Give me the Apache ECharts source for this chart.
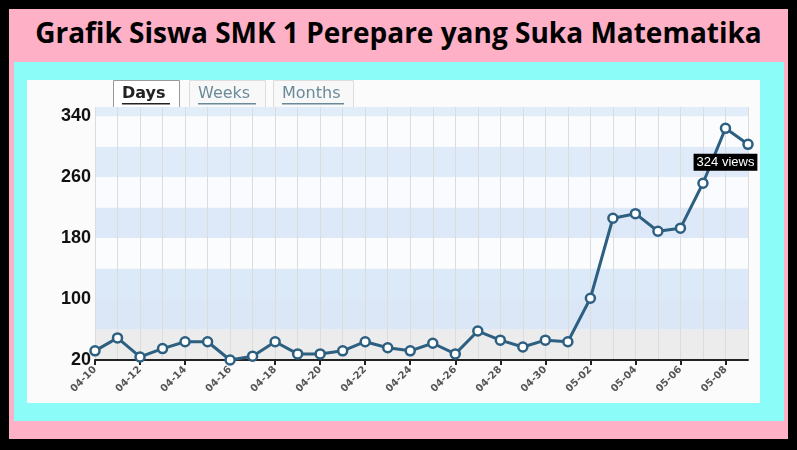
<!DOCTYPE html>
<html>
<head>
<meta charset="utf-8">
<script src="https://cdn.jsdelivr.net/npm/echarts@6/dist/echarts.min.js"></script>
<style>
html,body{margin:0;padding:0;background:#000;}
#frame{position:absolute;left:9px;top:9px;width:779px;height:430px;background:#fdb0c6;}
#cyan{position:absolute;left:14px;top:62px;width:770px;height:359px;background:#8cfcf8;}
#panel{position:absolute;left:27px;top:80px;width:733px;height:323px;background:#fbfbfb;}
#title{position:absolute;left:0;top:13px;width:797px;text-align:center;font:bold 28px "Open Sans","Noto Sans",sans-serif;color:#000;}
#main{position:absolute;left:0;top:0;width:797px;height:450px;}
</style>
</head>
<body>
<div id="frame"></div>
<div id="cyan"></div>
<div id="panel"></div>
<div id="title">Grafik Siswa SMK 1 Perepare yang Suka Matematika</div>
<div id="main"></div>
<script>
// tanggal dan jumlah views
var days = ['04-10','04-11','04-12','04-13','04-14','04-15','04-16','04-17','04-18','04-19',
            '04-20','04-21','04-22','04-23','04-24','04-25','04-26','04-27','04-28','04-29',
            '04-30','05-01','05-02','05-03','05-04','05-05','05-06','05-07','05-08','05-09'];
var views = [32,49,24,35,44,44,20,25,44,28,
             28,32,44,36,32,42,28,58,46,37,
             46,44,101,206,212,189,193,252,324,303];
var yTicks = [20,100,180,260,340];
var tabs = ['Days','Weeks','Months'];

var chart = echarts.init(document.getElementById('main'));
var seriesData = views.map(function (v, i) {
    if (i == 28) {
        return {value: v, label: {show: true, formatter: '324 views', position: 'inside', offset: [0, 34],
            backgroundColor: '#000', color: '#fff', padding: [2, 3], fontSize: 13, fontFamily: 'Liberation Sans'}};
    }
    return v;
});
var tabGraphics = [];
var tabX = [113, 189, 273], tabW = [66, 76, 80];
tabs.forEach(function (t, i) {
    tabGraphics.push({type: 'rect', left: tabX[i], top: 80, shape: {width: tabW[i], height: 28},
        style: {fill: i == 0 ? '#fff' : '#f8f8f8', stroke: i == 0 ? '#999' : '#ddd', lineWidth: 1}});
    tabGraphics.push({type: 'text', left: tabX[i] + 9, top: 86, style: {text: t,
        fill: i == 0 ? '#222' : '#6b8a99', font: (i == 0 ? 'bold ' : '') + '16px "DejaVu Sans"'}});
    tabGraphics.push({type: 'rect', left: tabX[i] + 9, top: 103, shape: {width: tabW[i] - 18, height: 1.5},
        style: {fill: i == 0 ? '#222' : '#6b8a99'}});
});

var option = {
    animation: false,
    grid: {left: 95, right: 49, top: 107, bottom: 90},
    graphic: tabGraphics,
    xAxis: {
        type: 'category', data: days, boundaryGap: false,
        axisLine: {lineStyle: {color: '#222', width: 2}},
        axisTick: {show: true, interval: 1, length: 5, lineStyle: {color: '#222', width: 2}},
        axisLabel: {interval: 1, rotate: 45, color: '#555', fontWeight: 'bold', fontSize: 10, fontFamily: 'DejaVu Sans', margin: 8},
        splitLine: {show: true, interval: 0, lineStyle: {color: '#dcdcdc', width: 1}}
    },
    yAxis: [{
        type: 'value', min: 20, max: 352, interval: 80,
        axisLine: {show: false}, axisTick: {show: false}, splitLine: {show: false},
        axisLabel: {color: '#111', fontWeight: 'bold', fontSize: 18, fontFamily: 'Liberation Sans', margin: 4,
            formatter: function (v) { return yTicks.indexOf(v) >= 0 ? v : ''; }}
    }, {
        type: 'value', min: 20, max: 352, interval: 40, show: true, position: 'left',
        axisLine: {show: false}, axisTick: {show: false}, axisLabel: {show: false},
        splitLine: {show: false},
        splitArea: {show: true, areaStyle: {color: ['#ececec', '#dbe7f7', '#dce9f9', '#fbfcfe', '#dde9f8', '#f9fbfe', '#dfebf9', '#fafcfe', '#e2edfa']}}
    }],
    series: [{
        type: 'line', data: seriesData, yAxisIndex: 0,
        symbol: 'circle', symbolSize: 9,
        lineStyle: {color: '#2c5f80', width: 3},
        itemStyle: {color: '#fff', borderColor: '#2c5f80', borderWidth: 2.5}
    }]
};
chart.setOption(option);
</script>
</body>
</html>
